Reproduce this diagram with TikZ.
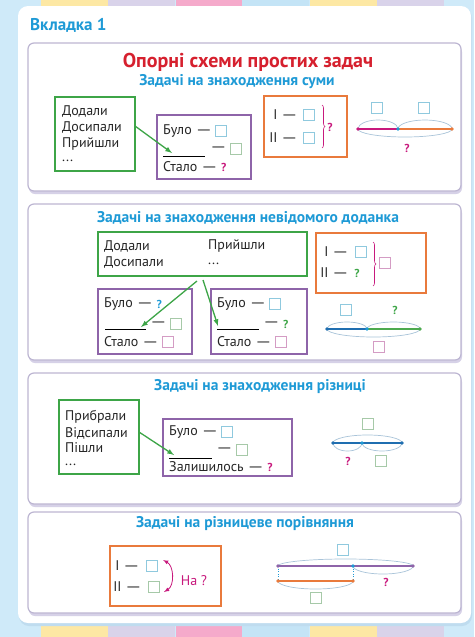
\documentclass[tikz,border=0pt]{standalone}
\usepackage{fontspec}
\setmainfont{PT Sans}
\usetikzlibrary{positioning,decorations.pathreplacing}
\definecolor{bgblue}{HTML}{CFEAF9}
\definecolor{stripyellow}{HTML}{FDE8A4}
\definecolor{stripviolet}{HTML}{D9D3EA}
\definecolor{strippink}{HTML}{F5AACB}
\definecolor{stripblue}{HTML}{C4E4F6}
\definecolor{outershadow}{HTML}{BFDCEF}
\definecolor{titleblue}{HTML}{1E9AD6}
\definecolor{titlered}{HTML}{D6202E}
\definecolor{panelline}{HTML}{BDB6D2}
\definecolor{panelshadow}{HTML}{D6D1E7}
\definecolor{boxgreen}{HTML}{3DA547}
\definecolor{boxviolet}{HTML}{8E64A9}
\definecolor{boxorange}{HTML}{E97A3C}
\definecolor{sqblue}{HTML}{8FC9DE}
\definecolor{sqgreen}{HTML}{A6C9A8}
\definecolor{sqpink}{HTML}{D49CC4}
\definecolor{qpink}{HTML}{C8197D}
\definecolor{qgreen}{HTML}{3DA547}
\definecolor{qblue}{HTML}{1E9AD6}
\definecolor{arcgray}{HTML}{A9C4D9}
\definecolor{lineblue}{HTML}{1F6EB0}
\definecolor{linegreen}{HTML}{4DAA4F}
\tikzstyle{panel}=[draw=panelline, line width=1.2pt, fill=white, rounded corners=6pt]
\tikzstyle{ghost}=[fill=panelshadow, rounded corners=6pt]
\tikzstyle{box}=[draw, line width=1.3pt, inner sep=0pt]
\tikzstyle{txt}=[inner sep=0pt, anchor=west, text=black!85, font=\fontsize{14}{16}\selectfont]
\tikzstyle{head}=[inner sep=0pt, text=titleblue, font=\bfseries\fontsize{15.5}{18}\selectfont]
\tikzstyle{cell}=[draw, line width=0.7pt, minimum size=11pt, inner sep=0pt]
\tikzstyle{qm}=[inner sep=0pt, font=\bfseries\fontsize{11.5}{13}\selectfont]
\tikzstyle{pnt}=[circle, fill, inner sep=0pt, minimum size=3.6pt]
\tikzstyle{hoop}=[draw=arcgray, line width=0.7pt]
\tikzstyle{seg}=[line width=1.5pt]
\tikzstyle{blank}=[line width=0.9pt]
\tikzstyle{arr}=[draw=boxgreen, line width=1.3pt, -latex]
\tikzstyle{brc}=[draw=qpink, line width=0.6pt, decorate, decoration={brace, amplitude=3pt}]
\newcommand{\cell}{\node[cell]}
\newcommand{\lbl}{\node[txt]}
\newcommand{\pnt}{\node[pnt]}
\newcommand{\dsh}{\scalebox{1.45}[1]{—}}

\begin{document}
\begin{tikzpicture}[x=1pt, y=-1pt]
\useasboundingbox (0,0) rectangle (474,637);
\fill[bgblue] (0,0) rectangle (474,637);
\foreach \x/\c in {41/stripyellow,108/stripviolet,176/strippink,242/stripblue,310/stripyellow,377/stripviolet}
{
  \fill[\c] (\x,0) rectangle ++(67,6);
  \fill[\c] (\x,626) rectangle ++(67,11);
}
\fill[outershadow, rounded corners=10pt] (19,8) rectangle (472,626);
\fill[white, rounded corners=10pt] (18,6) rectangle (471,623);
\node[inner sep=0pt, anchor=west, text=titleblue, font=\bfseries\fontsize{17}{20}\selectfont] (tab) at (30,25) {Вкладка 1};

% суми
\fill[ghost] (29,46) rectangle (462,194);
\draw[panel] (28,43) rectangle (461,191);
\node[inner sep=0pt, text=titlered, font=\bfseries\fontsize{20}{24}\selectfont] (title) at (248,62) {Опорні схеми простих задач};
\node[head] (h1) at (237,82) {Задачі на знаходження суми};
\node[box, draw=boxgreen, minimum width=80pt, minimum height=74pt] (add1) at (95,134) {};
\lbl (a1) at (62,112) {Додали};
\lbl (a2) at (62,128) {Досипали};
\lbl (a3) at (62,144) {Прийшли};
\lbl (a4) at (62,161) {...};
\node[box, draw=boxviolet, minimum width=94pt, minimum height=64pt] (sum1) at (204,147) {};
\lbl (b1) at (163,131) {Було \dsh};
\cell (c1) [draw=sqblue, right=3pt of b1] {};
\coordinate (u1) at (163,156);
\coordinate (v1) at (205,156);
\draw[blank] (u1) -- (v1);
\lbl (b2) at (210,149) {\dsh};
\cell (c2) [draw=sqgreen, right=3pt of b2] {};
\lbl (b3) at (163,167) {Стало \dsh};
\node[qm, text=qpink, right=3pt of b3] (q1) {?};
\coordinate (f1) at (135,126);
\coordinate (t1) at (172,153);
\draw[arr] (f1) -- (t1);
\node[box, draw=boxorange, minimum width=83pt, minimum height=61pt] (pair1) at (305.5,126.5) {};
\lbl (i1) [anchor=east] at (298,115) {I \dsh};
\cell (k1) [draw=sqblue] at (309,115) {};
\lbl (ii1) [anchor=east] at (298,138) {II \dsh};
\cell (k2) [draw=sqblue] at (309,138) {};
\coordinate (br1) at (322,105);
\coordinate (br2) at (322,148);
\draw[brc] (br1) -- (br2);
\node[qm, text=qpink] (q2) at (330,127) {?};
\coordinate (L1) at (358,129);
\coordinate (M1) at (398,129);
\coordinate (R1) at (452,129);
\draw[hoop] (L1) arc[start angle=180, end angle=0, x radius=20pt, y radius=9pt];
\draw[hoop] (M1) arc[start angle=180, end angle=0, x radius=27pt, y radius=9pt];
\draw[hoop] (L1) arc[start angle=180, end angle=360, x radius=47pt, y radius=8pt];
\draw[seg, draw=qpink] (L1) -- (M1);
\draw[seg, draw=boxorange] (M1) -- (R1);
\pnt (d1) [fill=qpink] at (L1) {};
\pnt (d2) [fill=qblue] at (M1) {};
\pnt (d3) [fill=boxorange] at (R1) {};
\cell (k3) [draw=sqblue] at (377,108) {};
\cell (k4) [draw=sqblue] at (424,108) {};
\node[qm, text=qpink] (q3) at (407,148) {?};

% невідомого доданка
\fill[ghost] (29,207) rectangle (462,363);
\draw[panel] (28,204) rectangle (461,360);
\node[head] (h2) at (248,218) {Задачі на знаходження невідомого доданка};
\node[box, draw=boxgreen, minimum width=209pt, minimum height=44pt] (add2) at (202.5,254) {};
\lbl (a5) at (104,246) {Додали};
\lbl (a6) at (104,262) {Досипали};
\lbl (a7) at (208,246) {Прийшли};
\lbl (a8) at (208,264) {...};
\node[box, draw=boxviolet, minimum width=94pt, minimum height=65pt] (sum2) at (145,321.5) {};
\lbl (b4) at (104,304) {Було \dsh};
\node[qm, text=qblue, right=3pt of b4] (q4) {?};
\coordinate (u2) at (105,329);
\coordinate (v2) at (146,329);
\draw[blank] (u2) -- (v2);
\lbl (b5) at (150,324) {\dsh};
\cell (c3) [draw=sqgreen, right=3pt of b5] {};
\lbl (b6) at (104,342) {Стало \dsh};
\cell (c4) [draw=sqpink, right=3pt of b6] {};
\node[box, draw=boxviolet, minimum width=96pt, minimum height=65pt] (sum3) at (259,321.5) {};
\lbl (b7) at (217,304) {Було \dsh};
\cell (c5) [draw=sqblue, right=3pt of b7] {};
\coordinate (u3) at (217,329);
\coordinate (v3) at (259,329);
\draw[blank] (u3) -- (v3);
\lbl (b8) at (263,324) {\dsh};
\node[qm, text=qgreen, right=3pt of b8] (q5) {?};
\lbl (b9) at (217,342) {Стало \dsh};
\cell (c6) [draw=sqpink, right=3pt of b9] {};
\coordinate (f2) at (197,281);
\coordinate (t2) at (141,327);
\coordinate (f3) at (203,280);
\coordinate (t3) at (218,326);
\draw[arr] (f2) -- (t2);
\draw[arr] (f3) -- (t3);
\node[box, draw=boxorange, minimum width=110pt, minimum height=60pt] (pair2) at (371,263) {};
\lbl (i2) [anchor=east] at (349,252) {I \dsh};
\cell (k5) [draw=sqblue] at (361,252) {};
\lbl (ii2) [anchor=east] at (349,273) {II \dsh};
\node[qm, text=qgreen] (q6) at (357,273) {?};
\coordinate (br3) at (373,242);
\coordinate (br4) at (373,286);
\draw[brc] (br3) -- (br4);
\cell (k6) [draw=sqpink] at (385,263) {};
\coordinate (L2) at (327,329);
\coordinate (M2) at (367,329);
\coordinate (R2) at (420,329);
\draw[hoop] (L2) arc[start angle=180, end angle=0, x radius=20pt, y radius=7pt];
\draw[hoop] (M2) arc[start angle=180, end angle=0, x radius=26.5pt, y radius=7pt];
\draw[hoop] (L2) arc[start angle=180, end angle=360, x radius=46.5pt, y radius=8pt];
\draw[seg, draw=lineblue] (L2) -- (M2);
\draw[seg, draw=linegreen] (M2) -- (R2);
\pnt (d4) [fill=lineblue] at (L2) {};
\pnt (d5) [fill=qblue] at (M2) {};
\pnt (d6) [fill=linegreen] at (R2) {};
\cell (k7) [draw=sqblue] at (346,310) {};
\node[qm, text=qgreen] (q7) at (395,310) {?};
\cell (k8) [draw=sqpink] at (379,347) {};

% різниці
\fill[ghost] (29,376) rectangle (462,507);
\draw[panel] (28,373) rectangle (461,504);
\node[head] (h3) at (260,387) {Задачі на знаходження різниці};
\node[box, draw=boxgreen, minimum width=80pt, minimum height=74pt] (sub1) at (99,437) {};
\lbl (a9) at (65,417) {Прибрали};
\lbl (a10) at (65,433) {Відсипали};
\lbl (a11) at (65,448) {Пішли};
\lbl (a12) at (65,465) {...};
\node[box, draw=boxviolet, minimum width=129pt, minimum height=57pt] (dif1) at (227.5,447.5) {};
\lbl (b10) at (169,432) {Було \dsh};
\cell (c7) [draw=sqblue, right=3pt of b10] {};
\coordinate (u4) at (169,458);
\coordinate (v4) at (212,458);
\draw[blank] (u4) -- (v4);
\lbl (b11) at (216,450) {\dsh};
\cell (c8) [draw=sqgreen, right=3pt of b11] {};
\lbl (b12) at (169,467) {Залишилось \dsh};
\node[qm, text=qpink, right=3pt of b12] (q8) {?};
\coordinate (f4) at (139,432);
\coordinate (t4) at (174,455);
\draw[arr] (f4) -- (t4);
\coordinate (L3) at (333,443);
\coordinate (M3) at (362,443);
\coordinate (R3) at (402,443);
\draw[hoop] (L3) arc[start angle=180, end angle=0, x radius=34.5pt, y radius=8pt];
\draw[hoop] (L3) arc[start angle=180, end angle=360, x radius=14.5pt, y radius=8pt];
\draw[hoop] (M3) arc[start angle=180, end angle=360, x radius=20pt, y radius=8pt];
\draw[seg, draw=lineblue] (L3) -- (R3);
\pnt (d7) [fill=lineblue] at (L3) {};
\pnt (d8) [fill=qblue] at (M3) {};
\pnt (d9) [fill=lineblue] at (R3) {};
\cell (k9) [draw=sqgreen] at (368,424) {};
\node[qm, text=qpink] (q9) at (348,461) {?};
\cell (k10) [draw=sqgreen] at (381,461) {};

% порівняння
\fill[ghost] (29,515) rectangle (462,616);
\draw[panel] (28,512) rectangle (461,613);
\node[head] (h4) at (245,524) {Задачі на різницеве порівняння};
\node[box, draw=boxorange, minimum width=111pt, minimum height=60pt] (pair3) at (165.5,576) {};
\lbl (i3) [anchor=east] at (140,566) {I \dsh};
\cell (k11) [draw=sqblue] at (152,566) {};
\lbl (ii3) [anchor=east] at (142,587) {II \dsh};
\cell (k12) [draw=sqgreen] at (154,587) {};
\coordinate (e1) at (163,560);
\coordinate (e2) at (164,592);
\draw[draw=qpink, line width=0.8pt, latex-latex] (e1) to[bend left=60] (e2);
\node[inner sep=0pt, text=qpink, font=\fontsize{14}{16}\selectfont] (na) at (194,581) {На ?};
\coordinate (P1) at (278,566);
\coordinate (P2) at (353,566);
\coordinate (P3) at (413,566);
\coordinate (Q1) at (278,581);
\coordinate (Q2) at (353,581);
\draw[hoop] (P1) arc[start angle=180, end angle=0, x radius=67.5pt, y radius=7pt];
\draw[hoop] (P2) arc[start angle=180, end angle=360, x radius=30pt, y radius=8pt];
\draw[hoop] (Q1) arc[start angle=180, end angle=360, x radius=37.5pt, y radius=8pt];
\draw[draw=qblue, dotted, line width=0.6pt] (P1) -- (Q1);
\draw[draw=qblue, dotted, line width=0.6pt] (P2) -- (Q2);
\draw[seg, draw=boxviolet] (P1) -- (P3);
\draw[seg, draw=boxorange] (Q1) -- (Q2);
\pnt (d10) [fill=boxviolet] at (P1) {};
\pnt (d11) [fill=qblue] at (P2) {};
\pnt (d12) [fill=boxviolet] at (P3) {};
\pnt (d13) [fill=boxorange] at (Q1) {};
\pnt (d14) [fill=boxorange] at (Q2) {};
\cell (k13) [draw=sqblue] at (343,550) {};
\node[qm, text=qpink] (q10) at (386,582) {?};
\cell (k14) [draw=sqgreen] at (316,598) {};
\end{tikzpicture}
\end{document}
